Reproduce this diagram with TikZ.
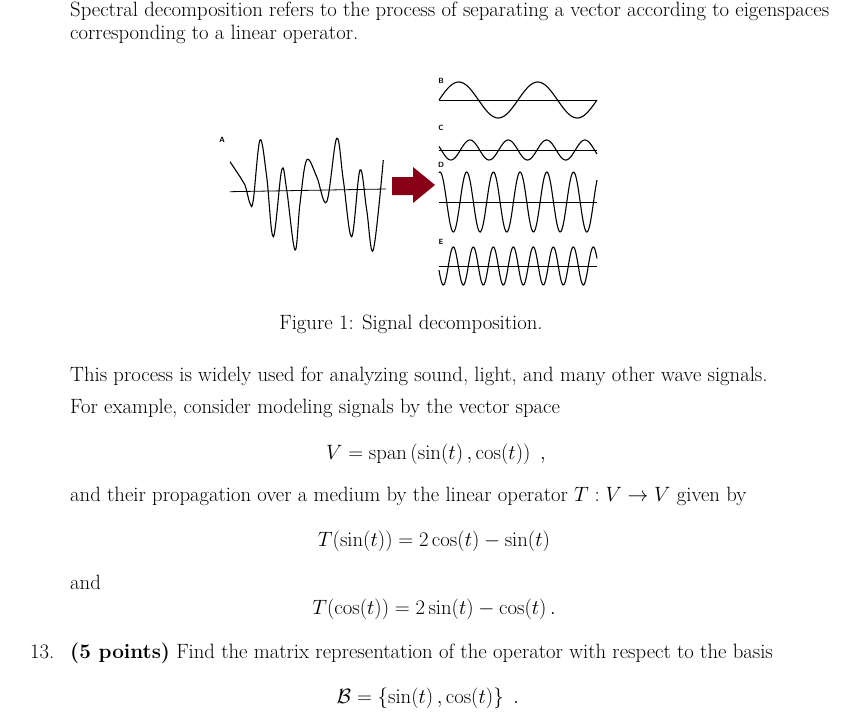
\documentclass[tikz,border=0pt]{standalone}
\usepackage{amsmath}
\begin{document}
\begin{tikzpicture}[x=1pt,y=-1pt,
  txt/.style={anchor=base west,inner sep=0pt,font=\fontsize{20.7}{24}\selectfont},
  eq/.style={anchor=base,inner sep=0pt,font=\fontsize{20.7}{24}\selectfont},
  lab/.style={inner sep=0pt,font=\fontsize{7.5}{8}\selectfont\sffamily\bfseries},
  wave/.style={line width=1.1pt,smooth},
  ax/.style={line width=0.8pt}]
\useasboundingbox (0,0) rectangle (852,717);
\node[txt] (l1) at (70,17) {Spectral decomposition refers to the process of separating a vector according to eigenspaces};
\node[txt] (l2) at (70,40) {corresponding to a linear operator.};
% figure
\node[lab] (la) at (222,140) {A};
\node[lab] (lb) at (441,81) {B};
\node[lab] (lc) at (441,128) {C};
\node[lab] (ld) at (441,165) {D};
\node[lab] (le) at (441,242) {E};
\draw[ax] (230,191.7) -- (386,189);
\draw[wave] plot[tension=0.6] coordinates {(230,161.7) (240,176.7) (245,185) (250,203.3) (253.3,200) (260,140) (266.7,176.7) (273.3,236.7) (281.7,170) (286.7,190) (295,250) (300,203.3) (306.7,160) (316.7,176.7) (326.7,201.7) (336.7,138.3) (343.3,180) (351.7,236.7) (360,170) (366.7,210) (373.3,250) (383.3,160)};
\draw[ax] (439,100) -- (597,100);
\draw[wave] plot[domain=439:597,samples=150] (\x,{100-18*sin(4.557*(\x-439))});
\draw[ax] (439,150) -- (597,150);
\draw[wave] plot[domain=439:597,samples=150] (\x,{150-10*cos(9.399*(\x-470))});
\draw[ax] (439,202) -- (597,202);
\draw[wave] plot[domain=439:597,samples=200] (\x,{202-30*cos(13.483*(\x-466.7))});
\draw[ax] (439,266) -- (597,266);
\draw[wave] plot[domain=439:597,samples=220] (\x,{266-19*cos(18*(\x-453.3))});
\fill[fill={rgb,255:red,135;green,0;blue,22}] (392,177) -- (413,177) -- (413,167) -- (435,185) -- (413,203) -- (413,195) -- (392,195) -- cycle;
\node[eq] (cap) at (411,329) {Figure 1: Signal decomposition.};
\node[txt] (l3) at (70,381) {This process is widely used for analyzing sound, light, and many other wave signals.};
\node[txt] (l4) at (70,413) {For example, consider modeling signals by the vector space};
\node[eq] (e1) at (436,459) {$V=\operatorname{span}\left(\sin(t)\,,\cos(t)\right)\ ,$};
\node[txt] (l5) at (70,501) {and their propagation over a medium by the linear operator $T:V\to V$ given by};
\node[eq] (e2) at (434,546) {$T(\sin(t))=2\cos(t)-\sin(t)$};
\node[txt] (l6) at (70,589) {and};
\node[eq] (e3) at (434,614) {$T(\cos(t))=2\sin(t)-\cos(t)\,.$};
\node[txt] (n13) at (30,658) {13.};
\node[txt] (l7) at (70,658) {\textbf{(5 points)} Find the matrix representation of the operator with respect to the basis};
\node[eq] (e4) at (428,703) {$\mathcal{B}=\left\{\sin(t)\,,\cos(t)\right\}\ .$};
\end{tikzpicture}
\end{document}
